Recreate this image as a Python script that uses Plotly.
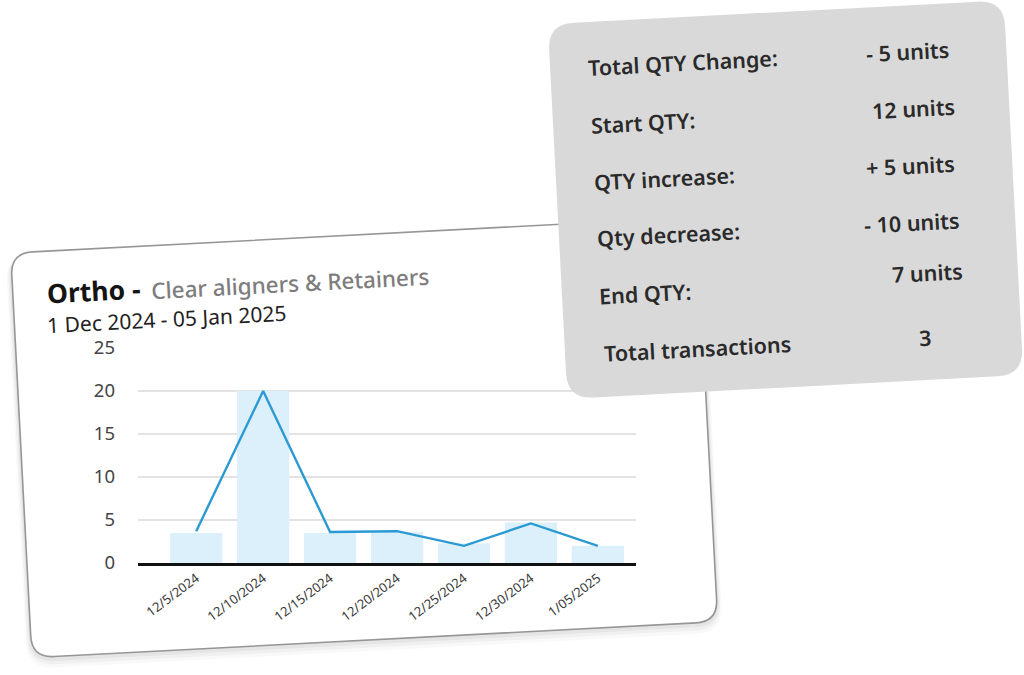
import math
import plotly.graph_objects as go

# ---------------- data ----------------
dates = ["12/5/2024", "12/10/2024", "12/15/2024", "12/20/2024",
         "12/25/2024", "12/30/2024", "1/05/2025"]
bar_values = [3.5, 20, 3.5, 3.6, 2.3, 4.7, 2.0]
line_values = [3.7, 20, 3.6, 3.7, 2.0, 4.6, 2.0]
y_ticks = [0, 5, 10, 15, 20, 25]

title_main = "Ortho -"
title_sub = "Clear aligners & Retainers"
date_range = "1 Dec 2024 - 05 Jan 2025"

stat_labels = ["Total QTY Change:", "Start QTY:", "QTY increase:",
               "Qty decrease:", "End QTY:", "Total transactions"]
stat_values = ["- 5 units", "12 units", "+ 5 units", "- 10 units",
               "7 units", "3"]

# ---------------- helpers ----------------
W_PX, H_PX = 1024, 675
FONT = "Noto Sans"


def to_paper(x, y):
    return x / W_PX, 1 - y / H_PX


def rrect_path(cx, cy, w, h, r, ang_deg, dx=0, dy=0, grow=0):
    w = w + 2 * grow
    h = h + 2 * grow
    r = r + grow
    a = math.radians(ang_deg)
    ca, sa = math.cos(a), math.sin(a)

    def P(x, y):
        X = cx + dx + x * ca + y * sa
        Y = cy + dy - x * sa + y * ca
        px, py = to_paper(X, Y)
        return f"{px:.5f},{py:.5f}"

    hw, hh = w / 2, h / 2
    d = [
        f"M {P(-hw + r, -hh)}",
        f"L {P(hw - r, -hh)}",
        f"Q {P(hw, -hh)} {P(hw, -hh + r)}",
        f"L {P(hw, hh - r)}",
        f"Q {P(hw, hh)} {P(hw - r, hh)}",
        f"L {P(-hw + r, hh)}",
        f"Q {P(-hw, hh)} {P(-hw, hh - r)}",
        f"L {P(-hw, -hh + r)}",
        f"Q {P(-hw, -hh)} {P(-hw + r, -hh)}",
        "Z",
    ]
    return " ".join(d)


ANG = 3.0

# left card geometry (pixels)
LC = dict(cx=364.2, cy=437.4, w=686.8, h=405.2, r=22)
# gray stats card geometry (pixels)
GC = dict(cx=785.6, cy=199.6, w=456.6, h=375.2, r=26)

shapes = []
# soft shadow under the left card
for off, alpha in [(10, 0.025), (7, 0.035), (4, 0.045)]:
    shapes.append(dict(
        type="path", xref="paper", yref="paper", layer="below",
        path=rrect_path(LC["cx"], LC["cy"], LC["w"], LC["h"], LC["r"], ANG,
                        dx=0, dy=off * 0.6, grow=off * 0.5),
        fillcolor=f"rgba(0,0,0,{alpha})", line=dict(width=0)))
# left card
shapes.append(dict(
    type="path", xref="paper", yref="paper", layer="below",
    path=rrect_path(LC["cx"], LC["cy"], LC["w"], LC["h"], LC["r"], ANG),
    fillcolor="white", line=dict(color="#969696", width=1.6)))
# gray card on top
shapes.append(dict(
    type="path", xref="paper", yref="paper", layer="above",
    path=rrect_path(GC["cx"], GC["cy"], GC["w"], GC["h"], GC["r"], ANG),
    fillcolor="#d9d9d9", line=dict(width=0)))

# ---------------- figure ----------------
fig = go.Figure()
fig.add_trace(go.Bar(x=dates, y=bar_values, marker=dict(color="#dcf0fc", line=dict(width=0)),
                     hoverinfo="skip", showlegend=False))
fig.add_trace(go.Scatter(x=dates, y=line_values, mode="lines",
                         line=dict(color="#2b9ad3", width=2.4),
                         hoverinfo="skip", showlegend=False))

x0, y0 = to_paper(138, 563)
x1, y1 = to_paper(636, 348)

annotations = []


def ann(text, x, y, size, color, weight="normal", angle=-ANG):
    px, py = to_paper(x, y)
    annotations.append(dict(
        text=text, x=px, y=py, xref="paper", yref="paper",
        xanchor="center", yanchor="middle", showarrow=False,
        textangle=angle,
        font=dict(family=FONT, size=size, color=color, weight=weight)))


# left card titles
ann(title_main, 93, 291, 26.5, "#141414", weight="bold")
ann(title_sub, 290, 283, 22.5, "#7d7d7d", weight=500)
ann(date_range, 166, 319, 21, "#222222")

# gray card stats
label_pos = [(683, 62), (643, 122), (664, 178), (668, 235), (645, 293), (697, 348)]
value_pos = [(907, 52), (913, 108), (910, 166), (912, 222), (927, 273), (925, 337)]
for lab, (lx, ly) in zip(stat_labels, label_pos):
    ann(lab, lx, ly, 21.5, "#2a2a2a", weight=600)
for val, (vx, vy) in zip(stat_values, value_pos):
    ann(val, vx, vy, 21.5, "#2a2a2a", weight=600)

fig.update_layout(
    width=W_PX, height=H_PX,
    margin=dict(l=0, r=0, t=0, b=0, autoexpand=False),
    paper_bgcolor="white",
    plot_bgcolor="rgba(0,0,0,0)",
    bargap=0.22,
    shapes=shapes,
    annotations=annotations,
    showlegend=False,
    xaxis=dict(
        domain=[x0, x1], type="category", range=[-0.87, 6.57],
        automargin=False,
        showgrid=False, zeroline=False,
        showline=True, linecolor="#111111", linewidth=2.5,
        ticks="", tickangle=-37,
        tickfont=dict(family=FONT, size=13, color="#3a3a3a"),
        fixedrange=True,
    ),
    yaxis=dict(
        domain=[y0, y1], range=[0, 25],
        automargin=False,
        tickvals=y_ticks, ticktext=[str(v) for v in y_ticks],
        showgrid=True, gridcolor="#e3e3e3", gridwidth=2,
        zeroline=False, showline=False, ticks="",
        ticklabelstandoff=22,
        tickfont=dict(family=FONT, size=18.5, color="#444444"),
        fixedrange=True,
    ),
)

fig.write_html("out.html", config={"displayModeBar": False},
               post_script="document.body.style.margin='0px';")
